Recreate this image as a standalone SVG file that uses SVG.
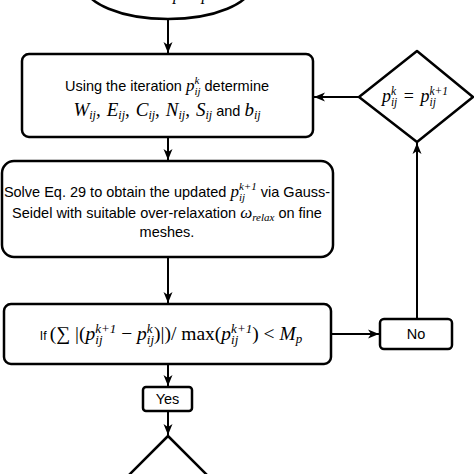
<svg xmlns="http://www.w3.org/2000/svg" width="474" height="474" viewBox="0 0 474 474">
<style>
.box{fill:#fff;stroke:#000;stroke-width:2.5;stroke-linejoin:round}
.con{fill:none;stroke:#000;stroke-width:2}
.t{font-family:"Liberation Sans",Arial,sans-serif;font-size:14.5px;fill:#000}
.m{font-family:"Liberation Serif","Times New Roman",serif;font-style:italic;font-size:17px}
.r{font-family:"Liberation Serif","Times New Roman",serif;font-style:normal;font-size:17px}
.s{font-size:11px}
.w .m,.w .r{font-size:18px}
.w .s{font-size:11.5px}
.v .m,.v .r{font-size:19px}
.v .s{font-size:12px}
.b .m,.b .r{font-size:19.5px}
.b .s{font-size:13px}
</style>
<defs>
<marker id="ah" markerUnits="userSpaceOnUse" markerWidth="12" markerHeight="12" viewBox="0 0 12 12" refX="11" refY="6" orient="auto">
<path d="M0,1.5 L11,6 L0,10.5 L3,6 Z" fill="#000"/>
</marker>
</defs>
<rect width="474" height="474" fill="#fff"/>
<g id="connectors">
<path class="con" d="M168,19 V53" marker-end="url(#ah)"/>
<path class="con" d="M168,137 V160" marker-end="url(#ah)"/>
<path class="con" d="M168,257 V303" marker-end="url(#ah)"/>
<path class="con" d="M168,364 V386" marker-end="url(#ah)"/>
<path class="con" d="M168,411 V435" marker-end="url(#ah)"/>
<path class="con" d="M331,334 H379" marker-end="url(#ah)"/>
<path class="con" d="M417,319 V143" marker-end="url(#ah)"/>
<path class="con" d="M359,97 H314" marker-end="url(#ah)"/>
</g>
<g id="start">
<ellipse class="box" cx="168" cy="-16" rx="84" ry="35"/>
<text class="t" x="165" y="-0.5" text-anchor="middle"><tspan class="m" font-size="14">and set p = p</tspan></text>
</g>
<g id="compute">
<rect class="box" x="22" y="54" width="291" height="83" rx="7"/>
<text class="t" x="167" y="91" text-anchor="middle">Using the iteration <tspan class="m">p</tspan><tspan class="m s" dy="-7">k</tspan><tspan class="m s" dx="-4.9" dy="11">ij</tspan><tspan dy="-4"> determine</tspan></text>
<text class="t v" x="167" y="116" text-anchor="middle"><tspan class="m">W</tspan><tspan class="m s" dy="3">ij</tspan><tspan class="r" dy="-3">,</tspan><tspan class="m" dx="6">E</tspan><tspan class="m s" dy="3">ij</tspan><tspan class="r" dy="-3">,</tspan><tspan class="m" dx="6">C</tspan><tspan class="m s" dy="3">ij</tspan><tspan class="r" dy="-3">,</tspan><tspan class="m" dx="6">N</tspan><tspan class="m s" dy="3">ij</tspan><tspan class="r" dy="-3">,</tspan><tspan class="m" dx="6">S</tspan><tspan class="m s" dy="3">ij</tspan><tspan dy="-3"> and </tspan><tspan class="m">b</tspan><tspan class="m s" dy="3">ij</tspan></text>
</g>
<g id="update">
<polygon class="box" points="417,51 473,97 417,142 359,97"/>
<text class="t w" x="415" y="102" text-anchor="middle"><tspan class="m">p</tspan><tspan class="m s" dy="-7">k</tspan><tspan class="m s" dx="-5.1" dy="11">ij</tspan><tspan class="r" dx="2" dy="-4"> = </tspan><tspan class="m" dx="2">p</tspan><tspan class="m s" dy="4">ij</tspan><tspan class="m s" dx="-6.4" dy="-11">k+1</tspan></text>
</g>
<g id="solve">
<rect class="box" x="2" y="161" width="331" height="96" rx="12"/>
<text class="t" x="167" y="197" text-anchor="middle">Solve Eq. 29 to obtain the updated <tspan class="m">p</tspan><tspan class="m s" dy="4">ij</tspan><tspan class="m s" dx="-6.1" dy="-11">k+1</tspan><tspan dy="7"> via Gauss-</tspan></text>
<text class="t" x="167" y="218" text-anchor="middle">Seidel with suitable over-relaxation <tspan class="m">ω</tspan><tspan class="m s" dy="3">relax</tspan><tspan dy="-3"> on fine</tspan></text>
<text class="t" x="167" y="237" text-anchor="middle">meshes.</text>
</g>
<g id="check">
<rect class="box" x="4" y="304" width="327" height="60" rx="7"/>
<text class="t b" x="171" y="340" text-anchor="middle"><tspan font-size="12">If  </tspan><tspan class="r">(∑ |(</tspan><tspan class="m">p</tspan><tspan class="m s" dy="4">ij</tspan><tspan class="m s" dx="-7.2" dy="-11">k+1</tspan><tspan class="r" dy="7"> − </tspan><tspan class="m">p</tspan><tspan class="m s" dy="-7">k</tspan><tspan class="m s" dx="-5.8" dy="11">ij</tspan><tspan class="r" dy="-4">)|)/ max(</tspan><tspan class="m">p</tspan><tspan class="m s" dy="4">ij</tspan><tspan class="m s" dx="-7.2" dy="-11">k+1</tspan><tspan class="r" dy="7">) &lt; </tspan><tspan class="m">M</tspan><tspan class="m s" dy="3">p</tspan></text>
</g>
<g id="no">
<rect class="box" x="380" y="319" width="72" height="30" rx="4"/>
<text class="t" x="416" y="339" text-anchor="middle">No</text>
</g>
<g id="yes">
<rect class="box" x="143" y="387" width="49" height="24" rx="3"/>
<text class="t" x="167.5" y="404" text-anchor="middle">Yes</text>
</g>
<g id="end">
<polygon class="box" points="168,436 250,518 168,600 86,518"/>
</g>
</svg>
